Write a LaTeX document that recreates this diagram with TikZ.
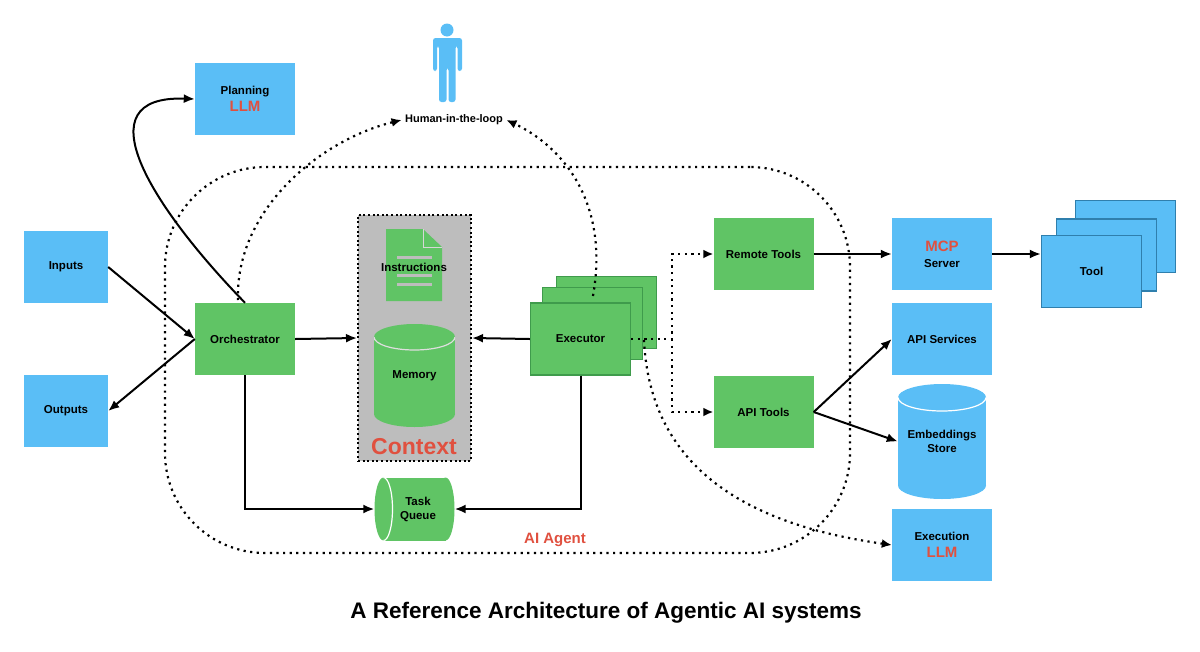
\documentclass[tikz,border=0pt]{standalone}
\usepackage{fontspec}
\setmainfont{Liberation Sans}
\usetikzlibrary{arrows.meta}
\definecolor{boxblue}{HTML}{5ABEF6}
\definecolor{boxgreen}{HTML}{60C465}
\definecolor{edgegreen}{HTML}{3F9B4C}
\definecolor{edgeblue}{HTML}{2F7FAD}
\definecolor{ctxgray}{HTML}{BDBDBD}
\definecolor{alertred}{HTML}{E0503F}
\newcommand{\llmword}[1]{{\fontsize{15}{17}\selectfont\color{alertred}#1}}
\tikzset{
    lbl/.style={font=\fontsize{11.5}{14}\selectfont\bfseries, align=center, text=black},
    bluebox/.style={lbl, fill=boxblue, minimum width=100pt, minimum height=72pt, inner sep=0pt},
    greenbox/.style={lbl, fill=boxgreen, minimum width=100pt, minimum height=72pt, inner sep=0pt},
    stackgreen/.style={greenbox, draw=edgegreen, line width=1.4pt},
    stackblue/.style={bluebox, draw=edgeblue, line width=1.4pt},
    % upright drum: fill, half width, lid height, rim colour
    updrum/.style n args={4}{lbl, inner sep=0pt, path picture={
        \fill[#1] ([yshift=-#3]path picture bounding box.north west) rectangle ([yshift=#3]path picture bounding box.south east);
        \fill[#1] ([yshift=-#3]path picture bounding box.north) ellipse [x radius=#2, y radius=#3];
        \fill[#1] ([yshift=#3]path picture bounding box.south) ellipse [x radius=#2, y radius=#3];
        \draw[#4, line width=1.2pt] ([yshift=-#3]path picture bounding box.north west) arc [start angle=180, end angle=360, x radius=#2, y radius=#3];
    }},
    % lying drum for the queue
    sidedrum/.style n args={3}{lbl, inner sep=0pt, path picture={
        \fill[#1] ([xshift=#2]path picture bounding box.north west) rectangle ([xshift=-#2]path picture bounding box.south east);
        \fill[#1] ([xshift=#2]path picture bounding box.west) ellipse [x radius=#2, y radius=31.5pt];
        \fill[#1] ([xshift=-#2]path picture bounding box.east) ellipse [x radius=#2, y radius=31.5pt];
        \draw[#3, line width=1.2pt] ([xshift=#2]path picture bounding box.north west) arc [start angle=90, end angle=-90, x radius=#2, y radius=31.5pt];
    }},
    link/.style={-{Latex[length=11pt,width=9pt]}, line width=2pt},
    dotline/.style={line width=2.2pt, dash pattern=on 2.2pt off 4.4pt},
    dotlink/.style={dotline, -{Latex[length=10pt,width=9pt]}},
    redword/.style={text=alertred}
}
\begin{document}
\begin{tikzpicture}[x=1pt, y=-1pt]
    \useasboundingbox (0,0) rectangle (1200,651);

    % Agent boundary
    \node[draw, dotline, rounded corners=100pt, minimum width=685pt, minimum height=386pt, inner sep=0pt] (agent) at (507.5,360) {};

    % Context panel
    \node[fill=ctxgray, draw, line width=2pt, dash pattern=on 2pt off 2.6pt,
        minimum width=113pt, minimum height=246pt, inner sep=0pt] (context) at (414.5,338) {};
    \fill[boxgreen] (386,229) -- (423,229) -- (442,247) -- (442,301) -- (386,301) -- cycle;
    \draw[ctxgray!60!white, line width=1pt] (423,229) -- (423,247) -- (442,247);
    \foreach \y in {257,275,284}
        \draw[ctxgray, line width=3pt] (397,\y) -- (432,\y);
    \node[lbl] (instructions) at (414,267) {Instructions};
    \node[updrum={boxgreen}{40.5pt}{13pt}{ctxgray!50!white}, minimum width=81pt, minimum height=103pt] (memory) at (414.5,375.5) {Memory};
    \node[redword, font=\fontsize{23}{26}\selectfont\bfseries] (ctxlabel) at (414,447) {Context};

    % Green boxes
    \node[greenbox] (orch) at (245,339) {Orchestrator};
    \node[stackgreen] (execc) at (606.5,312.5) {};
    \node[stackgreen] (execb) at (592.5,323.5) {};
    \node[stackgreen] (exec) at (580.5,339) {Executor};
    \node[greenbox] (remote) at (763.5,254) {Remote Tools};
    \node[greenbox] (apitools) at (763.5,412) {API Tools};
    \node[sidedrum={boxgreen}{9pt}{white}, minimum width=80pt, minimum height=63pt] (queue) at (414.5,509) {\hspace{7pt}Task\\\hspace{7pt}Queue};

    % Blue boxes
    \node[bluebox] (planning) at (245,99) {Planning\\[3pt]\llmword{LLM}};
    \node[bluebox, minimum width=84pt] (inputs) at (66,267) {Inputs};
    \node[bluebox, minimum width=84pt] (outputs) at (66,411) {Outputs};
    \node[bluebox] (mcp) at (942,254) {\llmword{MCP}\\[2pt]Server};
    \node[bluebox] (apiserv) at (942,339) {API Services};
    \node[updrum={boxblue}{44pt}{13.5pt}{white}, minimum width=88pt, minimum height=115pt] (embed) at (942,441.5) {Embeddings\\Store};
    \node[bluebox] (execllm) at (942,545) {Execution\\[3pt]\llmword{LLM}};
    \node[stackblue] (toolc) at (1125.5,236.5) {};
    \node[stackblue] (toolb) at (1106.5,255) {};
    \node[stackblue] (tool) at (1091.5,271.5) {Tool};

    % Person
    \fill[boxblue] (447,30) circle (6.5pt);
    \fill[boxblue, rounded corners=2.5pt] (433,38) -- (462,38) -- (462,71) -- (457.5,71) -- (457.5,46) -- (455.5,46) -- (455.5,102)
        -- (448.5,102) -- (448.5,68) -- (446.5,68) -- (446.5,102) -- (439,102) -- (439,46) -- (437,46) -- (437,71) -- (433,71) -- cycle;
    \node[lbl, font=\fontsize{11}{13}\selectfont\bfseries] (human) at (454,120) {Human-in-the-loop};

    % Solid links
    \draw[link] (inputs.east) -- (orch.west);
    \draw[link] (orch.west) -- (outputs.east);
    \draw[link] (orch.north) .. controls (150,205) and (82,95) .. (planning.west);
    \draw[link] (orch.east) -- (context.west);
    \draw[link] (exec.west) -- (context.east);
    \draw[link] (orch.south) |- (queue.west);
    \draw[link] (exec.south) |- (queue.east);
    \draw[link] (remote.east) -- (mcp.west);
    \draw[link] (mcp.east) -- (mcp.east -| tool.west);
    \draw[link] (apitools.east) -- (apiserv.west);
    \draw[link] (apitools.east) -- (embed.west);

    % Dotted links
    \coordinate (orchtop) at (238,300);
    \coordinate (exectop) at (593,296);
    \coordinate (execside) at (644,340);
    \coordinate (fork) at (672,339);
    \draw[dotlink] (orchtop) .. controls (235,210) and (320,140) .. (human.west);
    \draw[dotlink] (exectop) .. controls (610,200) and (560,145) .. (human.east);
    \draw[dotlink] (exec.east) -- (fork) |- (remote.west);
    \draw[dotlink] (fork) |- (apitools.west);
    \draw[dotlink] (execside) .. controls (650,470) and (750,525) .. (execllm.west);

    % Labels
    \node[redword, font=\fontsize{15}{17}\selectfont\bfseries] (agentlabel) at (555,540) {AI Agent};
    \node[font=\fontsize{22.5}{26}\selectfont\bfseries] (title) at (606,613) {A Reference Architecture of Agentic AI systems};
\end{tikzpicture}
\end{document}
